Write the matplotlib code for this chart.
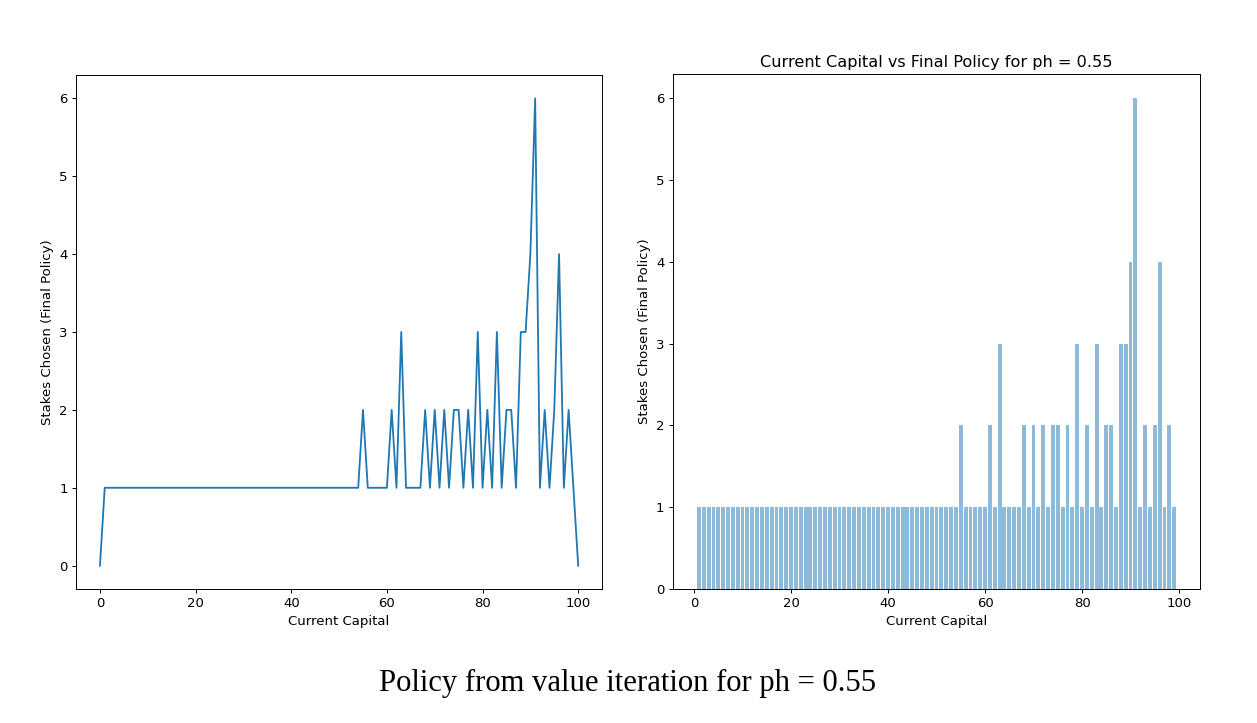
import numpy as np
import matplotlib
matplotlib.use("Agg")
import matplotlib.pyplot as plt

# capital 0..100, stake of the final policy
capital = list(range(0, 101))
stakes = [0] + [1] * 54 + [
    2, 1, 1, 1, 1, 1,        # 55-60
    2, 1, 3, 1, 1, 1, 1,     # 61-67
    2, 1, 2, 1, 2, 1,        # 68-73
    2, 2, 1, 2, 1, 3, 1,     # 74-80
    2, 1, 3, 1, 2, 2, 1,     # 81-87
    3, 3, 4, 6, 1, 2, 1,     # 88-94
    2, 4, 1, 2, 1,           # 95-99
    0,                       # 100
]

title_right = "Current Capital vs Final Policy for ph = 0.55"
caption = "Policy from value iteration for ph = 0.55"

plt.rcParams["font.size"] = 11
plt.rcParams["axes.titlesize"] = 13.3

fig = plt.figure(figsize=(1257 / 87, 723 / 87), dpi=87)
ax1 = fig.add_axes([0.0605, 0.1853, 0.4185, 0.711])
ax2 = fig.add_axes([0.5354, 0.1853, 0.4193, 0.7125])

# left: line of the whole policy
ax1.plot(capital, stakes)
ax1.set_xlabel("Current Capital")
ax1.set_ylabel("Stakes Chosen (Final Policy)")

# right: bars for 1..99
ax2.bar(capital[1:-1], stakes[1:-1], alpha=0.5)
ax2.set_xlabel("Current Capital")
ax2.set_ylabel("Stakes Chosen (Final Policy)")
ax2.set_title(title_right)

fig.text(0.499, 0.055, caption, ha="center", va="center",
         family="Liberation Serif", fontsize=25.4)

fig.savefig("out.png", dpi=87)
